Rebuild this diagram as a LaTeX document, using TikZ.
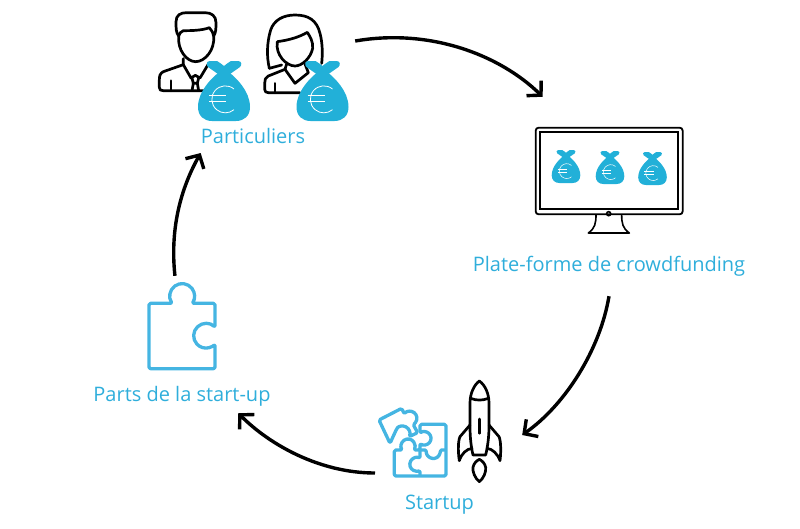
\documentclass[tikz,border=0pt]{standalone}
\usepackage{fontspec}
\setmainfont{Open Sans}
\usetikzlibrary{arrows.meta}
\definecolor{bagblue}{HTML}{22B0D8}
\definecolor{labelblue}{HTML}{2FAEDB}
\definecolor{puzzleblue}{HTML}{45B5E2}
\tikzset{
	iconline/.style={draw=black,line width=2.7pt,line join=round,line cap=round},
	puzzleline/.style={draw=puzzleblue,line width=3.3pt,line join=round,rounded corners=1.5pt},
	flowarrow/.style={draw=black,line width=3.4pt,-{Straight Barb[sharp,length=10pt,width=21pt,line width=3.4pt]}},
	iconbox/.style={inner sep=0pt},
	labeltext/.style={text=labelblue,font=\fontsize{20}{24}\selectfont,inner sep=0pt,text height=15pt,text depth=5pt},
	europen/.style={draw=white,line width=.8pt},
	moneybag/.pic={
		\fill[bagblue] (-14,0) -- (-7,0) .. controls (-4,1) and (-2,4) .. (0,5) .. controls (2,4) and (4,1) .. (7,0) -- (14,0) .. controls (18,0) and (18,4) .. (16,6) -- (6,13) -- (-6,13) -- (-16,6) .. controls (-18,4) and (-18,0) .. (-14,0) -- cycle;
		\fill[bagblue] (-6,12) -- (6,12) .. controls (12,17) and (26,30) .. (26,46) .. controls (26,55) and (20,60) .. (12,60) -- (-12,60) .. controls (-20,60) and (-26,55) .. (-26,46) .. controls (-26,30) and (-12,17) .. (-6,12) -- cycle;
		\draw[europen] (10,28) arc[start angle=-50,end angle=-310,radius=13.5];
		\draw[europen] (-15,34.5) -- (2,34.5) (-15,40.5) -- (2,40.5);
	}
}
\begin{document}
\begin{tikzpicture}[x=1pt,y=-1pt]
	\useasboundingbox (0,0) rectangle (800,528);

	% labels and boxes round the icons
	\node[labeltext,minimum height=30pt] (particuliers) at (253,138) {Particuliers};
	\node[labeltext,minimum height=60pt] (plateforme) at (609,266) {Plate-forme de crowdfunding};
	\node[labeltext] (startuptext) at (439.5,504) {Startup};
	\node[labeltext,minimum height=34pt] (parts) at (182,396) {Parts de la start-up};
	\node[iconbox,minimum width=200pt,minimum height=112pt] (people) at (255,66) {};
	\node[iconbox,minimum width=149pt,minimum height=138pt] (monitor) at (609.5,166) {};
	\node[iconbox,minimum width=164pt,minimum height=110pt] (startup) at (440,435) {};
	\node[iconbox,minimum width=70pt,minimum height=100pt] (piece) at (182,326) {};
	\coordinate (startupout) at (375,473);

	% man
	\begin{scope}[shift={(140,0)},scale=1/3]
		\draw[iconline] (116,108) .. controls (108,98) and (108,85) .. (108,65) .. controls (108,45) and (122,38) .. (140,38) -- (195,38) .. controls (215,38) and (228,48) .. (228,68) .. controls (228,85) and (228,98) .. (221,108);
		\draw[iconline] (116,108) .. controls (112,150) and (140,185) .. (167,185) .. controls (195,185) and (225,150) .. (221,108) .. controls (220,100) and (215,90) .. (208,83) .. controls (185,92) and (150,92) .. (130,92) .. controls (122,95) and (118,100) .. (116,108);
		\draw[iconline] (130,176) -- (130,194) -- (70,215) .. controls (60,220) and (58,228) .. (58,240) -- (58,262) .. controls (58,270) and (62,272) .. (70,272) -- (190,272);
		\draw[iconline] (93,242) -- (93,272);
		\draw[iconline] (130,194) -- (153,234) -- (166,226) -- (180,234) -- (204,194);
		\draw[iconline] (156,234) -- (160,250) -- (172,250) -- (176,234);
		\draw[iconline] (160,250) -- (156,272) (172,250) -- (176,272);
	\end{scope}

	% woman
	\begin{scope}[shift={(140,0)},scale=1/3]
		\draw[iconline] (388,205) .. controls (380,170) and (380,130) .. (392,90) .. controls (402,60) and (430,45) .. (465,45) .. controls (505,45) and (530,60) .. (540,100) .. controls (548,130) and (548,165) .. (545,190);
		\draw[iconline] (412,125) .. controls (450,120) and (480,110) .. (502,97) .. controls (510,110) and (520,125) .. (518,145) .. controls (512,175) and (485,198) .. (465,198) .. controls (440,198) and (405,165) .. (412,125);
		\draw[iconline] (388,205) -- (425,195);
		\draw[iconline] (440,192) -- (435,208) -- (385,228) .. controls (376,232) and (374,240) .. (374,250) -- (374,268) .. controls (374,275) and (378,278) .. (385,278) -- (480,278);
		\draw[iconline] (405,250) -- (405,278);
		\draw[iconline] (435,208) -- (465,250) -- (505,218) -- (495,192);
	\end{scope}
	\pic (bagman) at (224,61) {moneybag};
	\pic (bagwoman) at (322.5,61) {moneybag};

	% monitor
	\begin{scope}[shift={(520,115)},scale=1/3]
		\draw[draw=black,line width=1.8pt,rounded corners=3pt] (47,38) rectangle (488,298);
		\draw[draw=black,line width=1.8pt] (60,50) rectangle (475,282);
		\draw[draw=black,line width=1.6pt] (266,296) circle (6);
		\draw[draw=black,line width=1.6pt,line join=round] (228,298) .. controls (228,325) and (225,340) .. (205,354) -- (328,354) .. controls (308,340) and (305,325) .. (305,298);
	\end{scope}
	\begin{scope}[europen/.append style={line width=.5pt}]
		\pic[scale=.55] (bagone) at (566,150) {moneybag};
		\pic[scale=.55] (bagtwo) at (610,151) {moneybag};
		\pic[scale=.55] (bagthree) at (652.5,152) {moneybag};
	\end{scope}

	% startup puzzle and rocket
	\begin{scope}[shift={(365,370)},scale=1/3]
		\draw[puzzleline] (165,163) -- (243,163) -- (243,318) -- (88,318) -- (88,240) -- (112,240) arc[start angle=145,end angle=395,radius=21] -- (165,240) -- (165,220) arc[start angle=131,end angle=-131,radius=20] -- cycle;
		\draw[puzzleline] (165,240) -- (185,240) arc[start angle=194,end angle=-14,radius=20.6] -- (243,240);
		\draw[puzzleline] (165,240) -- (165,265) arc[start angle=-61,end angle=-299,radius=20.6] -- (165,318);
		\draw[puzzleline] (42,150) -- (110,115) -- (118,132) arc[start angle=-143,end angle=63,radius=21] -- (158,188) -- (132,200) arc[start angle=27,end angle=-143,radius=22] -- (75,220) -- cycle;
		\draw[iconline] (343,33) .. controls (360,45) and (372,70) .. (372,100) -- (372,170) .. controls (372,200) and (368,230) .. (362,255) -- (324,255) .. controls (318,230) and (315,200) .. (315,170) -- (315,100) .. controls (315,70) and (327,45) .. (343,33) -- cycle;
		\draw[iconline] (317,85) .. controls (335,92) and (352,92) .. (370,85);
		\draw[iconline] (343,147) -- (343,190);
		\draw[iconline] (315,165) -- (285,200) .. controls (280,210) and (278,240) .. (283,272) .. controls (290,250) and (305,237) .. (321,235);
		\draw[iconline] (372,165) -- (402,200) .. controls (407,210) and (409,240) .. (405,272) .. controls (397,250) and (382,237) .. (366,235);
		\draw[iconline] (343,335) .. controls (330,325) and (322,305) .. (324,292) .. controls (326,280) and (335,272) .. (343,268) .. controls (351,272) and (360,280) .. (362,292) .. controls (364,305) and (356,325) .. (343,335) -- cycle;
	\end{scope}

	% single piece
	\begin{scope}[shift={(135,270)},scale=1/3]
		\draw[puzzleline] (42,100) -- (112,100) arc[start angle=143,end angle=397,radius=37] -- (240,100) -- (240,172) arc[start angle=-43,end angle=-317,radius=37] -- (240,296) -- (42,296) -- cycle;
	\end{scope}

	% arrows
	\draw[flowarrow] (people.14.6) .. controls (430,28) and (500,55) .. (monitor.134.5);
	\draw[flowarrow] (plateforme.south) .. controls (600,350) and (565,405) .. (startup.east);
	\draw[flowarrow] (startupout) .. controls (320,473) and (270,445) .. (parts.-17.2);
	\draw[flowarrow] (piece.98) .. controls (170,230) and (180,190) .. (particuliers.196.7);
\end{tikzpicture}
\end{document}
